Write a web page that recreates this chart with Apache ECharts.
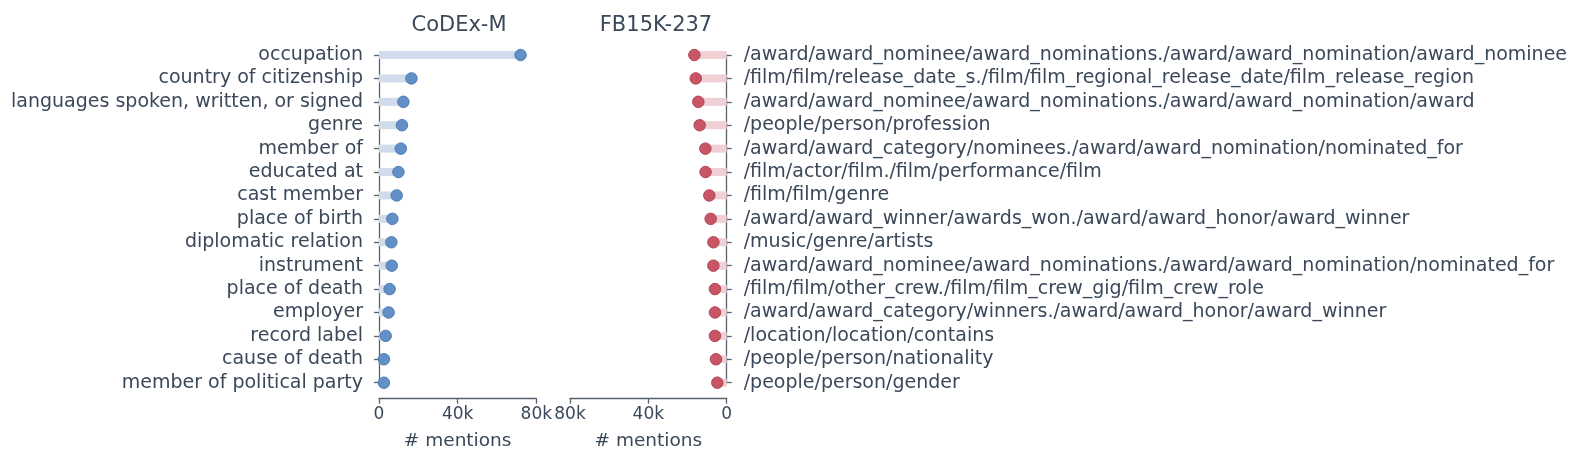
<!DOCTYPE html>
<html>
<head>
<meta charset="utf-8">
<script src="https://cdn.jsdelivr.net/npm/echarts@6/dist/echarts.min.js"></script>
<style>html,body{margin:0;padding:0;background:#fff;}#c{width:1578px;height:461px;}</style>
</head>
<body>
<div id="c"></div>
<script>
const codexRelations = ["occupation","country of citizenship","languages spoken, written, or signed","genre","member of","educated at","cast member","place of birth","diplomatic relation","instrument","place of death","employer","record label","cause of death","member of political party"];
const codexMentions = [72000,16500,12400,11700,11100,9900,9000,6800,6300,6500,5400,4900,3400,2500,2500];
const fbRelations = ["/award/award_nominee/award_nominations./award/award_nomination/award_nominee","/film/film/release_date_s./film/film_regional_release_date/film_release_region","/award/award_nominee/award_nominations./award/award_nomination/award","/people/person/profession","/award/award_category/nominees./award/award_nomination/nominated_for","/film/actor/film./film/performance/film","/film/film/genre","/award/award_winner/awards_won./award/award_honor/award_winner","/music/genre/artists","/award/award_nominee/award_nominations./award/award_nomination/nominated_for","/film/film/other_crew./film/film_crew_gig/film_crew_role","/award/award_category/winners./award/award_honor/award_winner","/location/location/contains","/people/person/nationality","/people/person/gender"];
const fbMentions = [16500,15800,14500,13800,10900,10800,8900,8200,6800,6800,6000,6000,6000,5500,4800];
const xTickLabels = {0:"0",40000:"40k",80000:"80k"};
const panelTitles = ["CoDEx-M","FB15K-237"];

const FONT = "DejaVu Sans";
const TXT = "#3b485a";
const SPINE = "#58626f";

const chart = echarts.init(document.getElementById('c'), null, {renderer:'canvas'});
function xAx(idx, inverse){
  return {
    gridIndex: idx, type:'value', min:0, max:80000, interval:40000, inverse: inverse,
    position:'bottom', offset:16,
    axisLine:{show:true, lineStyle:{color:SPINE, width:1.3}},
    axisTick:{show:true, length:5, lineStyle:{color:SPINE, width:1.3}},
    axisLabel:{color:TXT, fontFamily:FONT, fontSize:17, margin:7, formatter:v=>xTickLabels[v]},
    splitLine:{show:false},
    name:'# mentions', nameLocation:'middle', nameGap:33,
    nameTextStyle:{color:TXT, fontFamily:FONT, fontSize:18.5}
  };
}
function yAx(idx, cats, pos, off){
  return {
    gridIndex: idx, type:'category', data:cats, inverse:true, boundaryGap:false,
    position:pos, offset:off,
    axisLine:{show:true, lineStyle:{color:SPINE, width:1.3}},
    axisTick:{show:true, length:5, alignWithLabel:true, lineStyle:{color:SPINE, width:1.3}},
    axisLabel:{color:TXT, fontFamily:FONT, fontSize:19, margin:9, interval:0},
    splitLine:{show:false}
  };
}
chart.setOption({
  animation:false,
  backgroundColor:'#fff',
  title:[
    {text:panelTitles[0], left:454, top:10, textAlign:'center', textStyle:{color:TXT, fontFamily:FONT, fontSize:21, fontWeight:'normal'}},
    {text:panelTitles[1], left:651, top:10, textAlign:'center', textStyle:{color:TXT, fontFamily:FONT, fontSize:21, fontWeight:'normal'}}
  ],
  grid:[
    {left:379, width:157.3, top:55, height:327.7, containLabel:false},
    {left:570, width:156.7, top:55, height:327.7, containLabel:false}
  ],
  xAxis:[xAx(0,false), xAx(1,true)],
  yAxis:[yAx(0,codexRelations,'left',7), yAx(1,fbRelations,'right',8)],
  series:[
    {type:'bar', xAxisIndex:0, yAxisIndex:0, data:codexMentions, barWidth:8, itemStyle:{color:'#d0dcec'}, silent:true, z:1},
    {type:'scatter', xAxisIndex:0, yAxisIndex:0, data:codexMentions, symbolSize:11.5, itemStyle:{color:'#5b8ac4', opacity:0.95, borderColor:'#4a78b2', borderWidth:1}, z:3},
    {type:'bar', xAxisIndex:1, yAxisIndex:1, data:fbMentions, barWidth:8, itemStyle:{color:'#f0cfd5'}, silent:true, z:1},
    {type:'scatter', xAxisIndex:1, yAxisIndex:1, data:fbMentions, symbolSize:11.5, itemStyle:{color:'#c44e5e', opacity:0.95, borderColor:'#b03e4e', borderWidth:1}, z:3}
  ]
});
</script>
</body>
</html>
